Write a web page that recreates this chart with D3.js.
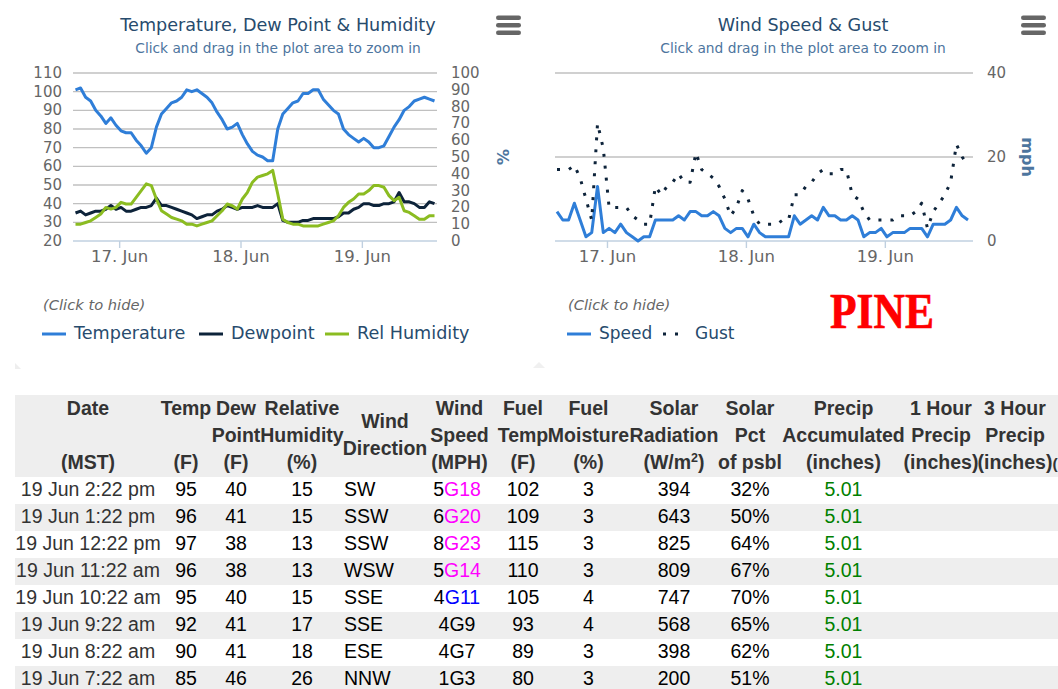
<!DOCTYPE html>
<html lang="en">
<head>
<meta charset="utf-8">
<title>PINE</title>
<script src="https://cdn.jsdelivr.net/npm/d3@7"></script>
<style>
  html, body { margin: 0; padding: 0; background: #fff; overflow: hidden; }
  svg { display: block; }
  .hc { font-family: "DejaVu Sans", sans-serif; }
  .tb { font-family: "Liberation Sans", Arial, sans-serif; font-size: 19.5px; }
  .tb .h { font-weight: bold; fill: #333; text-anchor: middle; }
</style>
</head>
<body>
<script>
// hourly obs, 16 Jun 15:22 through 19 Jun 14:22
var temperature = [101,102,97,95,90,87,83,86,82,79,78,78,74,71,67,70,81,88,91,94,95,97,101,100,101,99,97,94,89,85,80,81,83,77,72,68,66,65,63,63,80,88,91,94,95,99,99,101,101,96,93,90,88,80,77,75,73,75,73,70,70,71,76,81,85,90,92,95,96,97,96,95];
var dewpoint = [35,36,34,35,36,36,37,39,37,38,36,36,37,38,38,39,43,39,39,38,37,36,35,34,32,33,34,34,36,37,39,38,37,38,38,38,39,38,38,38,40,31,30,30,30,31,31,32,32,32,32,32,33,35,35,37,38,40,40,39,39,40,40,41,46,41,41,40,38,38,41,40];
var humidity = [10,10,11,12,14,16,20,19,20,23,22,22,26,30,34,33,25,18,16,14,13,12,10,10,9,10,11,12,15,18,22,21,19,25,29,35,38,39,40,42,28,13,11,10,10,9,9,9,9,10,11,12,15,20,23,25,28,28,30,33,33,32,27,24,26,18,17,15,13,13,15,15];
var speed = [7,5,5,9,5,1,2,13,2,3,2,4,2,1,0,1,1,5,5,5,5,6,5,7,7,6,6,7,6,3,2,3,3,1,4,2,1,1,1,1,1,6,4,5,6,5,8,6,6,5,5,6,5,1,2,2,3,1,2,2,2,3,3,3,1,4,4,4,5,8,6,5];
var gust = [17,17,17,18,15,10,5,28,22,8,8,8,8,6,5,4,4,13,11,13,14,16,14,14,21,17,16,15,13,10,6,8,12,10,6,4,4,4,4,5,5,11,11,13,14,16,17,16,16,17,17,11,10,7,5,5,5,5,5,6,6,6,7,9,3,7,9,11,14,23,20,18];

var leftTicks = [20,30,40,50,60,70,80,90,100,110];
var pctTicks = [0,10,20,30,40,50,60,70,80,90,100];
var mphTicks = [0,20,40];
var dayTicks = [new Date(2014,5,17), new Date(2014,5,18), new Date(2014,5,19)];

var tableHead = [
  ["Date","","(MST)"],["Temp","","(F)"],["Dew","Point","(F)"],["Relative","Humidity","(%)"],
  ["Wind","Direction"],["Wind","Speed","(MPH)"],["Fuel","Temp","(F)"],["Fuel","Moisture","(%)"],
  ["Solar","Radiation","(W/m²)"],["Solar","Pct","of psbl"],["Precip","Accumulated","(inches)"],
  ["1 Hour","Precip","(inches)"],["3 Hour","Precip","(inches)"]
];
var colCenters = [88,186,236,302,385,459.5,523,588.5,674,750,843.5,941,1015];
var rowDates = ["19 Jun 2:22 pm","19 Jun 1:22 pm","19 Jun 12:22 pm","19 Jun 11:22 am","19 Jun 10:22 am","19 Jun 9:22 am","19 Jun 8:22 am","19 Jun 7:22 am"];
var rowTemp = [95,96,97,96,95,92,90,85];
var rowDew = [40,41,38,38,40,41,41,46];
var rowRh = [15,15,13,13,15,17,18,26];
var rowDir = ["SW","SSW","SSW","WSW","SSE","SSE","ESE","NNW"];
var rowSpeed = [5,6,8,5,4,4,4,1];
var rowGust = [18,20,23,14,11,9,7,3];
var rowFuelT = [102,109,115,110,105,93,89,80];
var rowFuelM = [3,3,3,3,4,4,3,3];
var rowSolar = [394,643,825,809,747,568,398,200];
var rowPct = ["32%","50%","64%","67%","70%","65%","62%","51%"];
var rowPrecip = ["5.01","5.01","5.01","5.01","5.01","5.01","5.01","5.01"];

var w = 1058, h = 689;
var BLUE = "#2f7ed8", NAVY = "#0d233a", GREEN = "#8bbc21";
var svg = d3.select("body").append("svg").attr("width", w).attr("height", h);

var startTime = new Date(2014,5,16,15,22);
function timeAt(i) { return new Date(+startTime + i*3600000); }

function menuIcon(x) {
  var g = svg.append("g");
  [15.5,23,30.5].forEach(function(y) {
    g.append("rect").attr("x", x).attr("y", y).attr("width", 25).attr("height", 4.5).attr("rx", 2.2).attr("fill", "#666");
  });
}

function drawChart(o) {
  var x = d3.scaleTime().domain(o.xDomain).range(o.xRange);
  var g = svg.append("g").attr("class", "hc");

  g.append("text").attr("x", o.titleX).attr("y", 31).attr("text-anchor", "middle")
    .attr("font-size", 17.6).attr("fill", "#274b6d").text(o.title);
  g.append("text").attr("x", o.titleX).attr("y", 53).attr("text-anchor", "middle")
    .attr("font-size", 13.75).attr("fill", "#4d759e").text("Click and drag in the plot area to zoom in");

  // grid
  g.selectAll(null).data(o.gridTicks).enter().append("line")
    .attr("x1", o.gridX[0]).attr("x2", o.gridX[1])
    .attr("y1", function(d) { return o.gridScale(d); })
    .attr("y2", function(d) { return o.gridScale(d); })
    .attr("stroke", d => d === o.gridTicks[0] ? "#c0d0e0" : "#c0c0c0").attr("stroke-width", 1.4);

  // x axis
  var xAxis = g.append("g").attr("transform", "translate(0,241)")
    .call(d3.axisBottom(x).tickValues(dayTicks).tickSize(7).tickPadding(2)
      .tickFormat(function(d) { return d3.timeFormat("%-d")(d) + ". Jun"; }));
  xAxis.select(".domain").remove();
  xAxis.selectAll("line").attr("stroke", "#c0d0e0").attr("stroke-width", 1.4);
  xAxis.selectAll("text").attr("font-family", "'DejaVu Sans', sans-serif").attr("font-size", 16.5).attr("fill", "#666");

  o.draw(g, x);

  // legend
  g.append("text").attr("x", o.legendX).attr("y", 310).attr("font-size", 14.7).attr("font-style", "italic")
    .attr("fill", "#666").text("(Click to hide)");
  o.legend.forEach(function(d) {
    var line = g.append("line").attr("x1", d.x).attr("x2", d.x + 24).attr("y1", 334).attr("y2", 334)
      .attr("stroke", d.color).attr("stroke-width", 3);
    if (d.dash) line.attr("stroke-dasharray", d.dash);
    g.append("text").attr("x", d.x + 32).attr("y", 339).attr("font-size", o.legendSize).attr("fill", "#274b6d").text(d.name);
  });
}

function seriesLine(g, x, y, values, color, dash) {
  var line = d3.line().x(function(d, i) { return x(timeAt(i)); }).y(function(d) { return y(d); });
  var p = g.append("path").datum(values).attr("d", line).attr("fill", "none")
    .attr("stroke", color).attr("stroke-width", 3).attr("stroke-linejoin", "round");
  if (dash) p.attr("stroke-dasharray", dash);
}

function yLabels(g, scale, ticks, xp, anchor) {
  g.selectAll(null).data(ticks).enter().append("text")
    .attr("x", xp).attr("y", function(d) { return scale(d) + 5; })
    .attr("text-anchor", anchor).attr("font-size", 15).attr("fill", "#666")
    .text(function(d) { return d; });
}

// left chart
var yTemp = d3.scaleLinear().domain([20,110]).range([241,73]);
var yPct = d3.scaleLinear().domain([0,100]).range([241,73]);
drawChart({
  title: "Temperature, Dew Point & Humidity", titleX: 278,
  xDomain: [new Date(2014,5,16,15,22), new Date(2014,5,19,14,22)], xRange: [75.5,434.5],
  gridScale: yTemp, gridTicks: leftTicks, gridX: [73,437],
  legendX: 43, legendSize: 17.6,
  legend: [{x:42,color:BLUE,name:"Temperature"},{x:199,color:NAVY,name:"Dewpoint"},{x:325,color:GREEN,name:"Rel Humidity"}],
  draw: function(g, x) {
    yLabels(g, yTemp, leftTicks, 62, "end");
    yLabels(g, yPct, pctTicks, 451, "start");
    g.append("text").attr("transform", "translate(497,157) rotate(90)").attr("text-anchor", "middle")
      .attr("font-size", 16).attr("font-weight", "bold").attr("fill", "#4d759e").text("%");
    seriesLine(g, x, yTemp, temperature, BLUE);
    seriesLine(g, x, yTemp, dewpoint, NAVY);
    seriesLine(g, x, yPct, humidity, GREEN);
  }
});

// right chart
var yMph = d3.scaleLinear().domain([0,40]).range([241,73]);
drawChart({
  title: "Wind Speed & Gust", titleX: 803,
  xDomain: [new Date(2014,5,16,15,22), new Date(2014,5,19,14,22)], xRange: [557,968],
  gridScale: yMph, gridTicks: mphTicks, gridX: [555,973],
  legendX: 568, legendSize: 17,
  legend: [{x:567,color:BLUE,name:"Speed"},{x:663,color:NAVY,name:"Gust",dash:"3,9"}],
  draw: function(g, x) {
    yLabels(g, yMph, mphTicks, 987, "start");
    g.append("text").attr("transform", "translate(1022,157) rotate(90)").attr("text-anchor", "middle")
      .attr("font-size", 16).attr("font-weight", "bold").attr("fill", "#4d759e").text("mph");
    seriesLine(g, x, yMph, speed, BLUE);
    seriesLine(g, x, yMph, gust, NAVY, "3,9");
  }
});

menuIcon(496);
menuIcon(1021);

// chart container corners
svg.append("path").attr("d", "M15,363 L15,369 L21,369 Z").attr("fill", "#eee");
svg.append("path").attr("d", "M533,368 L539,362 L545,368 Z").attr("fill", "#f0f0f0");

svg.append("text").attr("x", 830).attr("y", 328)
  .attr("font-family", "'Liberation Serif', serif").attr("font-weight", "bold").attr("font-size", 50)
  .attr("textLength", 104).attr("lengthAdjust", "spacingAndGlyphs")
  .attr("stroke", "#f00").attr("stroke-width", 0.7)
  .attr("fill", "#f00").text("PINE");

// table
var tb = svg.append("g").attr("class", "tb");
tb.append("rect").attr("x", 15).attr("y", 395).attr("width", w - 15).attr("height", 82).attr("fill", "#eee");
rowDates.forEach(function(d, i) {
  if (i % 2) tb.append("rect").attr("x", 15).attr("y", 477 + i*27).attr("width", w - 15).attr("height", 27).attr("fill", "#eee");
});

tableHead.forEach(function(lines, c) {
  var two = lines.length === 2;
  lines.forEach(function(t, l) {
    var y = two ? 428 + l*27 : 415 + l*27;
    var txt = tb.append("text").attr("class", "h").attr("x", colCenters[c]).attr("y", y);
    if (t === "(W/m²)") {
      txt.append("tspan").text("(W/m");
      txt.append("tspan").attr("dy", -7).attr("font-size", 12.5).text("2");
      txt.append("tspan").attr("dy", 7).text(")");
    } else txt.text(t);
  });
});
tb.append("text").attr("class", "h").attr("x", 1052.5).attr("y", 469).attr("font-size", 15.5).style("text-anchor", "start").text("(");

function gustColor(v) { return v >= 14 ? "#f0f" : v >= 10 ? "#00f" : "#000"; }

function cell(list, col, opts) {
  opts = opts || {};
  tb.selectAll(null).data(list).enter().append("text")
    .attr("x", opts.x || colCenters[col])
    .attr("y", function(d, i) { return 496 + i*27; })
    .attr("text-anchor", opts.anchor || "middle")
    .attr("fill", opts.color || "#000")
    .text(function(d) { return d; });
}
cell(rowDates, 0, {color: "#333"});
cell(rowTemp, 1);
cell(rowDew, 2);
cell(rowRh, 3);
cell(rowDir, 4, {x: 344, anchor: "start"});
rowSpeed.forEach(function(s, i) {
  var t = tb.append("text").attr("x", 457).attr("y", 496 + i*27).attr("text-anchor", "middle");
  t.append("tspan").attr("fill", "#000").text(s);
  t.append("tspan").attr("fill", gustColor(rowGust[i])).text("G" + rowGust[i]);
});
cell(rowFuelT, 6);
cell(rowFuelM, 7);
cell(rowSolar, 8);
cell(rowPct, 9);
cell(rowPrecip, 10, {color: "#008000"});
</script>
</body>
</html>
